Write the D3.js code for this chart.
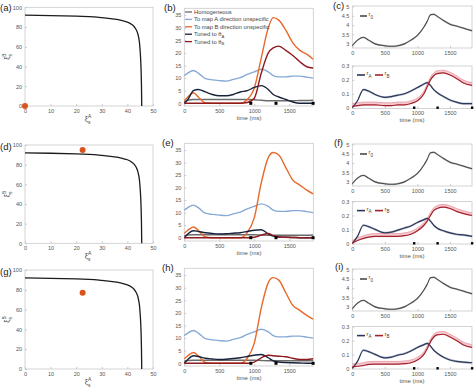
<!DOCTYPE html>
<html>
<head>
<meta charset="utf-8">
<script src="https://cdn.jsdelivr.net/npm/d3@7"></script>
<style>
  body { margin: 0; background: #fff; }
  svg { display: block; font-family: "Liberation Sans", Arial, sans-serif; }
  .tick text { fill: #555; }
</style>
</head>
<body>
<script>
// ---- data ----

// left column: frontier curve (xi_s^A, xi_s^B) and the working point
var frontierA = [0, 10, 20, 25, 30, 35, 38, 40, 42, 43.5, 44.5, 45, 45.3, 45.5, 45.6];
var frontierB = [92, 91.6, 91, 90.5, 89.5, 88, 86.5, 85, 82, 77, 68, 55, 40, 20, 0];
var dotA = [0, 22.5, 22.5];
var dotB = [0, 95, 77];
var leftXTicks = [0, 10, 20, 30, 40, 50];
var leftYTicks = [0, 20, 40, 60, 80, 100];

// middle column: population activity over time
var timeMid = [0, 50, 130, 200, 300, 400, 500, 600, 700, 800, 900, 1000, 1100, 1200, 1270, 1350, 1450, 1550, 1650, 1750, 1840];
var seriesNames = ["Homogeneous", "To map A direction unspecific", "To map B direction unspecific", "Tuned to \u03b8A", "Tuned to \u03b8B"];

var homB   = [0.5, 1.2, 1.5, 1.5, 1.5, 1.5, 1.5, 1.5, 1.5, 1.5, 1.5, 1.4, 1.2, 1.0, 1.0, 1.0, 1.0, 1.0, 1.1, 1.1, 1.2];
var mapAB  = [11, 12, 13, 12, 9.8, 9.3, 9, 8.8, 9.5, 10.2, 11.5, 12.5, 13.5, 12.5, 11, 10.5, 10.5, 10.8, 10.8, 10.4, 10];
var mapBB  = [1, 2.5, 4.2, 2.5, 0.2, 0, 0, 0, 0, 0, 1.5, 6, 18, 30, 34, 33, 29, 24, 21, 19.5, 17.5];
var tunAB  = [0, 1.5, 5, 5.5, 4.5, 3.5, 3, 3, 3.5, 4.5, 5, 6.3, 7, 5.5, 3.5, 2.5, 1.5, 0.5, 0, 0, 0];
var tunBB  = [0, 0, 0, 0, 0, 0, 0, 0, 0, 0, 0.3, 2, 12, 20, 22, 22.7, 21, 19, 16.5, 14.5, 14];

var homE   = [0.8, 1.1, 1.2, 1.2, 1.2, 1.2, 1.2, 1.2, 1.2, 1.2, 1.2, 1.2, 1.1, 1.0, 1.0, 1.0, 1.0, 1.0, 1.0, 1.0, 1.1];
var mapAE  = mapAB;
var mapBE  = [1.8, 3, 4.3, 3, 0.3, 0, 0, 0, 0, 0, 2, 8, 22, 32, 34, 33, 28, 23, 21, 19, 17.5];
var tunAE  = [0, 1.5, 2.8, 2.5, 2, 1.7, 1.5, 1.6, 1.8, 2, 2.5, 3, 3.2, 1.5, 0.6, 0.3, 0.2, 0.1, 0, 0, 0];
var tunBE  = [0, 0, 0, 0, 0, 0, 0, 0, 0, 0, 0, 0.2, 1, 1.7, 0.8, 0.3, 0.2, 0.1, 0, 0, 0];

var homH   = homE;
var mapAH  = mapAB;
var mapBH  = mapBE;
var tunAH  = [0, 1.5, 3, 2.7, 2, 1.7, 1.5, 1.6, 1.9, 2.2, 2.7, 3.2, 3.5, 2.2, 1, 0.5, 0.3, 0.2, 0.1, 0, 0];
var tunBH  = [0, 0, 0, 0, 0, 0, 0, 0, 0, 0, 0, 0.5, 2.2, 3.2, 3, 2.8, 2.6, 2, 1.5, 1.5, 1.8];

var midYTicks = [0, 5, 10, 15, 20, 25, 30, 35];
var timeTicks = [0, 500, 1000, 1500];
var markerTimes = [950, 1310, 1840];

// right column: rates
var timeRight = [0, 80, 170, 250, 350, 500, 600, 700, 800, 900, 1000, 1100, 1150, 1200, 1250, 1300, 1400, 1500, 1600, 1700, 1840];
var r0  = [2.9, 3.2, 3.35, 3.2, 3.0, 2.9, 2.87, 2.9, 3.0, 3.2, 3.45, 3.9, 4.2, 4.55, 4.58, 4.48, 4.25, 4.05, 3.95, 3.85, 3.7];
var rAc = [0, 0.05, 0.13, 0.12, 0.095, 0.075, 0.08, 0.09, 0.1, 0.12, 0.145, 0.17, 0.18, 0.16, 0.13, 0.11, 0.08, 0.055, 0.04, 0.03, 0.03];
var rBc = [0.01, 0.015, 0.02, 0.02, 0.02, 0.015, 0.015, 0.02, 0.02, 0.03, 0.05, 0.1, 0.15, 0.2, 0.23, 0.245, 0.25, 0.235, 0.21, 0.18, 0.16];
var rAf = [0, 0.05, 0.13, 0.12, 0.1, 0.075, 0.08, 0.095, 0.11, 0.125, 0.15, 0.17, 0.18, 0.16, 0.13, 0.11, 0.09, 0.075, 0.065, 0.06, 0.05];
var rBf = [0, 0.02, 0.035, 0.045, 0.05, 0.05, 0.05, 0.05, 0.055, 0.065, 0.09, 0.13, 0.16, 0.2, 0.235, 0.25, 0.26, 0.25, 0.23, 0.215, 0.2];
var rAi = [0, 0.05, 0.13, 0.12, 0.1, 0.075, 0.08, 0.095, 0.105, 0.125, 0.15, 0.17, 0.18, 0.16, 0.13, 0.11, 0.08, 0.06, 0.05, 0.045, 0.04];
var rBi = [0.01, 0.015, 0.02, 0.028, 0.03, 0.03, 0.03, 0.03, 0.033, 0.04, 0.06, 0.1, 0.14, 0.19, 0.225, 0.24, 0.245, 0.225, 0.2, 0.17, 0.15];
var r0Ticks = [3, 3.5, 4, 4.5, 5];
var rABTicks = [0, 0.1, 0.2, 0.3];

// ---- drawing ----
var svg = d3.select("body").append("svg").attr("width", 474).attr("height", 389);

var colors = ["#6b6b6b", "#86a9d6", "#e8692a", "#17223b", "#8e1b1f"];
var boxColor = "#c9c9c9";

function frame(g, x, y, xt, yt, xfmt, yfmt) {
  var xr = x.range(), yr = y.range();
  // inward MATLAB-like ticks
  var bx = g.append("g").attr("transform", "translate(0," + yr[0] + ")")
    .call(d3.axisBottom(x).tickValues(xt).tickSize(-2).tickPadding(3).tickFormat(xfmt || d3.format("d")));
  var ly = g.append("g").attr("transform", "translate(" + xr[0] + ",0)")
    .call(d3.axisLeft(y).tickValues(yt).tickSize(-2).tickPadding(3).tickFormat(yfmt || d3.format("d")));
  [bx, ly].forEach(function(a) {
    a.select(".domain").remove();
    a.selectAll("line").attr("stroke", boxColor);
    a.selectAll("text").attr("font-size", 5.5);
  });
  g.append("rect").attr("x", xr[0]).attr("y", yr[1])
    .attr("width", xr[1] - xr[0]).attr("height", yr[0] - yr[1])
    .attr("fill", "none").attr("stroke", boxColor).attr("stroke-width", 0.8);
}

function panelLabel(txt, x, y) {
  svg.append("text").attr("x", x).attr("y", y).attr("font-size", 9.5)
    .attr("fill", "#222").text(txt);
}

function subLabel(g, base, sub, sup, x, y, size, rotate) {
  var t = g.append("text").attr("x", x).attr("y", y).attr("font-size", size)
    .attr("fill", "#444").attr("text-anchor", "middle");
  if (rotate) t.attr("transform", "rotate(-90," + x + "," + y + ")");
  t.append("tspan").text(base);
  if (sup) t.append("tspan").attr("dy", -size * 0.45).attr("font-size", size * 0.7).text(sup);
  if (sub) t.append("tspan").attr("dx", sup ? -size * 0.45 : 0).attr("dy", sup ? size * 0.85 : size * 0.35)
    .attr("font-size", size * 0.7).text(sub);
}

// left panels
var leftRows = [[106, 7.3], [243.3, 145], [369, 270]];
leftRows.forEach(function(r, i) {
  var g = svg.append("g");
  var x = d3.scaleLinear().domain([0, 50]).range([25, 153]);
  var y = d3.scaleLinear().domain([0, 100]).range(r);
  frame(g, x, y, leftXTicks, leftYTicks);
  g.append("path").datum(d3.range(frontierA.length))
    .attr("fill", "none").attr("stroke", "#1b1b1b").attr("stroke-width", 1.3)
    .attr("d", d3.line().x(function(k) { return x(frontierA[k]); })
      .y(function(k) { return y(frontierB[k]); }).curve(d3.curveMonotoneY));
  g.append("circle").attr("cx", x(dotA[i])).attr("cy", y(dotB[i])).attr("r", 3)
    .attr("fill", "#d9531e");
  subLabel(g, "\u03be", "s", "A", 88, r[0] + 15, 7, false);
  subLabel(g, "\u03be", "s", "B", 9, (r[0] + r[1]) / 2, 7, true);
});

// middle panels
var midRows = [[106, 8.3, 103.3], [241, 143.3, 237.7], [366, 268.3, 363.3]];
var midSeries = [
  [homB, mapAB, mapBB, tunAB, tunBB],
  [homE, mapAE, mapBE, tunAE, tunBE],
  [homH, mapAH, mapBH, tunAH, tunBH]
];
midRows.forEach(function(r, i) {
  var g = svg.append("g");
  var x = d3.scaleLinear().domain([0, 1843]).range([184.3, 313.3]);
  // zero sits slightly above the bottom edge
  var per = (r[2] - r[1]) / 37.7;
  var y = d3.scaleLinear().domain([(r[2] - r[0]) / per, 37.7]).range([r[0], r[1]]);
  frame(g, x, y, timeTicks, midYTicks);
  var line = d3.line().x(function(d) { return x(d[0]); }).y(function(d) { return y(d[1]); })
    .curve(d3.curveMonotoneX);
  midSeries[i].forEach(function(vals, s) {
    g.append("path").datum(timeMid.map(function(t, k) { return [t, vals[k]]; }))
      .attr("fill", "none").attr("stroke", colors[s]).attr("stroke-width", 1.4)
      .attr("d", line);
  });
  markerTimes.forEach(function(t) {
    g.append("rect").attr("x", x(t) - 1.5).attr("y", y(0) - 1.5).attr("width", 3).attr("height", 3)
      .attr("fill", "#000");
  });
  g.append("text").attr("x", 249).attr("y", r[0] + 14).attr("font-size", 6)
    .attr("fill", "#555").attr("text-anchor", "middle").text("time (ms)");
  if (i === 0) {
    var leg = g.append("g");
    seriesNames.forEach(function(n, s) {
      var yy = 12 + s * 7.4;
      leg.append("line").attr("x1", 185).attr("x2", 192).attr("y1", yy).attr("y2", yy)
        .attr("stroke", colors[s]).attr("stroke-width", 1.3);
      var t = leg.append("text").attr("x", 194).attr("y", yy + 2).attr("font-size", 5.8).attr("fill", "#444");
      if (s < 3) t.text(n);
      else {
        t.append("tspan").text("Tuned to \u03b8");
        t.append("tspan").attr("dy", 1.5).attr("font-size", 4.2).text(s === 3 ? "A" : "B");
      }
    });
  }
});

// right panels
var rightRows = [
  { top: [48, 6], bot: [108.4, 66] },
  { top: [186, 144], bot: [244, 201.6] },
  { top: [311, 269], bot: [369, 326.6] }
];
var rightA = [rAc, rAf, rAi];
var rightB = [rBc, rBf, rBi];
rightRows.forEach(function(r, i) {
  var x = d3.scaleLinear().domain([0, 1838]).range([352.3, 472]);
  var gt = svg.append("g");
  var yt = d3.scaleLinear().domain([2.78, 5.02]).range(r.top);
  frame(gt, x, yt, timeTicks, r0Ticks, null, d3.format("~g"));
  var area = function(yS, lo, hi) {
    return d3.area().x(function(d) { return x(d[0]); })
      .y0(function(d) { return yS(d[1] - lo); }).y1(function(d) { return yS(d[1] + hi); })
      .curve(d3.curveMonotoneX);
  };
  var line = function(yS) {
    return d3.line().x(function(d) { return x(d[0]); }).y(function(d) { return yS(d[1]); })
      .curve(d3.curveMonotoneX);
  };
  var d0 = timeRight.map(function(t, k) { return [t, r0[k]]; });
  gt.append("path").datum(d0).attr("fill", "#9a9a9a").attr("opacity", 0.6).attr("d", area(yt, 0.05, 0.05));
  gt.append("path").datum(d0).attr("fill", "none").attr("stroke", "#4a4a4a").attr("stroke-width", 1.1).attr("d", line(yt));
  gt.append("line").attr("x1", 360).attr("x2", 367).attr("y1", r.top[1] + 10).attr("y2", r.top[1] + 10)
    .attr("stroke", "#4a4a4a").attr("stroke-width", 1.6);
  var t0 = gt.append("text").attr("x", 368.5).attr("y", r.top[1] + 10).attr("font-size", 5.8).attr("fill", "#444");
  t0.append("tspan").text("r");
  t0.append("tspan").attr("dy", 2.5).attr("font-size", 4.5).text("0");

  var gb = svg.append("g");
  var yb = d3.scaleLinear().domain([-0.005, 0.3]).range(r.bot);
  frame(gb, x, yb, timeTicks, rABTicks, null, d3.format("~g"));
  var dA = timeRight.map(function(t, k) { return [t, rightA[i][k]]; });
  var dB = timeRight.map(function(t, k) { return [t, rightB[i][k]]; });
  gb.append("path").datum(dA).attr("fill", "#9aa3bd").attr("opacity", 0.7).attr("d", area(yb, 0.008, 0.008));
  gb.append("path").datum(dB).attr("fill", "#f0b4bc").attr("opacity", 0.7).attr("d", area(yb, 0.006, 0.022));
  gb.append("path").datum(dB.map(function(d) { return [d[0], d[1] + 0.02]; }))
    .attr("fill", "none").attr("stroke", "#e58a96").attr("stroke-width", 0.6).attr("d", line(yb));
  gb.append("path").datum(dA).attr("fill", "none").attr("stroke", "#2d3858").attr("stroke-width", 1.2).attr("d", line(yb));
  gb.append("path").datum(dB).attr("fill", "none").attr("stroke", "#a3222c").attr("stroke-width", 1.2).attr("d", line(yb));
  markerTimes.forEach(function(t) {
    gb.append("rect").attr("x", x(t) - 1.2).attr("y", yb(0) - 1.2).attr("width", 2.4).attr("height", 2.4)
      .attr("fill", "#000");
  });
  [["A", "#2d3858", 357], ["B", "#a3222c", 375]].forEach(function(l) {
    var yy = r.bot[1] + 9;
    gb.append("line").attr("x1", l[2]).attr("x2", l[2] + 8).attr("y1", yy).attr("y2", yy)
      .attr("stroke", l[1]).attr("stroke-width", 1.6);
    var tt = gb.append("text").attr("x", l[2] + 9.5).attr("y", yy).attr("font-size", 5.8).attr("fill", "#444");
    tt.append("tspan").text("r");
    tt.append("tspan").attr("dy", 2.5).attr("font-size", 4.5).text(l[0]);
  });
  gb.append("text").attr("x", 412).attr("y", r.bot[0] + 14).attr("font-size", 6)
    .attr("fill", "#555").attr("text-anchor", "middle").text("time (ms)");
});

panelLabel("(a)", 0, 11);
panelLabel("(b)", 164, 11);
panelLabel("(c)", 333, 9);
panelLabel("(d)", 0, 150);
panelLabel("(e)", 162, 146);
panelLabel("(f)", 334, 146);
panelLabel("(g)", 0, 275);
panelLabel("(h)", 162, 271);
panelLabel("(i)", 335, 270);
</script>
</body>
</html>
